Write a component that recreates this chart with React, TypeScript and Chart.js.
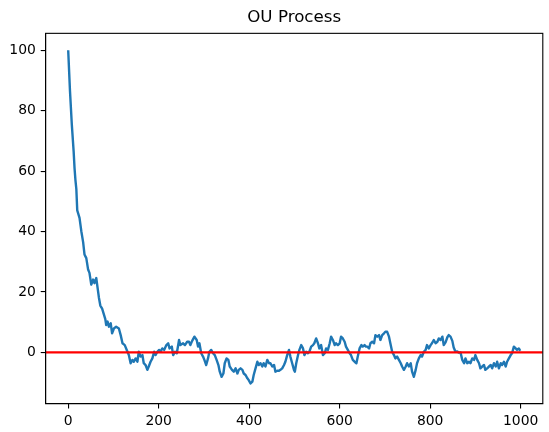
import React, { useEffect, useRef } from "react";
import { Chart, registerables } from "chart.js";

Chart.register(...registerables);

const steps: number[] = [
  0, 4, 8, 12, 14, 16, 18, 20, 22, 25, 29, 33, 36, 40, 44, 47, 51, 55, 58, 62,
  64, 68, 71, 75, 79, 82, 84, 87, 90, 94, 97, 101, 106, 112, 116, 120, 125, 131, 134, 138,
  142, 145, 149, 153, 156, 160, 164, 167, 171, 175, 178, 182, 186, 190, 193, 197, 201, 204, 208, 212,
  217, 221, 224, 229, 232, 236, 240, 245, 248, 254, 258, 263, 267, 270, 274, 279, 284, 287, 290, 294,
  298, 301, 305, 309, 312, 316, 320, 324, 328, 332, 335, 339, 343, 346, 350, 354, 357, 362, 366, 370,
  374, 377, 381, 385, 388, 392, 396, 399, 403, 407, 410, 414, 418, 421, 425, 429, 432, 436, 440, 444,
  447, 451, 455, 458, 462, 466, 469, 473, 477, 480, 484, 488, 491, 495, 499, 501, 504, 508, 511, 515,
  519, 522, 526, 530, 533, 537, 541, 544, 548, 552, 555, 559, 563, 567, 570, 574, 578, 581, 585, 589,
  592, 596, 600, 603, 607, 611, 614, 618, 622, 625, 629, 633, 637, 640, 644, 648, 651, 655, 658, 661,
  665, 668, 672, 676, 679, 683, 687, 690, 694, 698, 701, 705, 709, 712, 716, 720, 723, 727, 731, 735,
  738, 742, 746, 749, 753, 757, 760, 764, 768, 771, 775, 779, 782, 786, 790, 793, 797, 801, 804, 808,
  812, 816, 819, 823, 827, 830, 834, 838, 841, 845, 849, 852, 856, 860, 863, 867, 871, 875, 878, 882,
  886, 889, 893, 897, 900, 904, 908, 911, 915, 919, 922, 926, 930, 934, 937, 941, 945, 948, 952, 956,
  959, 963, 967, 970, 974, 978, 981, 985, 989, 992, 996, 999,
];

const ouValues: number[] = [
  100, 86.4, 75.4, 66.6, 61, 57, 54, 47, 46, 44.5, 40.1, 36.5, 32.4, 31.2, 27.4, 26.3, 22.4, 24.1, 22.9, 24.6,
  22.4, 18, 15.5, 14.5, 12.5, 11, 9, 10.2, 8.5, 9.6, 6.3, 7.9, 8.5, 7.9, 5.7, 3, 2.4, 0.2, -0.9, -3.6,
  -2.5, -3.1, -2, -3.1, 0.2, -1.4, -0.9, -3.6, -4.2, -5.8, -4.7, -3.1, -2, 0.2, -0.9, 0.2, 0.8, 0.2, 1.3, 0.8,
  2.4, 3, 1.3, 1.9, -0.9, 0.2, -0.3, 4.1, 2.4, 3, 2.4, 3.5, 3.5, 2.4, 3.8, 5.2, 4.1, 1.9, 3, -0.3,
  -1.4, -2.5, -4.2, -2, 0.2, 0.8, -0.3, -0.9, -2.5, -4.2, -6.4, -8.1, -7, -3.6, -2, -2.5, -4.7, -5.8, -6.4, -5.3,
  -7, -5.8, -5.3, -5.8, -7, -7.5, -8.6, -9.2, -10.3, -9.7, -7.5, -5.3, -3.1, -4.2, -3.6, -4.7, -3.6, -4.7, -2.5, -3.6,
  -3.6, -4.7, -4.2, -6.4, -6.1, -6.1, -5.8, -5.3, -4.2, -3.1, -0.9, 0.8, -1.4, -3.6, -5.8, -6.4, -3.6, -0.9, 0.8, 2.4,
  1.3, -0.9, 0.2, -0.3, 0.2, 1.9, 2.4, 3, 4.6, 3, 1.3, 2.4, -0.9, -0.3, 1.3, 0.8, 3, 5.2, 4.1, 2.4,
  3, 2.4, 3, 5.2, 4.6, 3.5, 1.9, 0.8, -0.3, -0.9, -2.5, -3.1, -3.6, -1.4, 1.3, 2.4, 1.9, 2.4, 1.9, 1.9,
  1.3, 3, 3.5, 3, 5.7, 5.2, 5.7, 4.1, 5.7, 6.3, 6.8, 6.8, 5.2, 3, 0.2, -0.9, -2, -1.4, -2.5, -3.6,
  -4.7, -5.8, -4.7, -3.6, -4.7, -3.6, -6.4, -8.1, -5.8, -3.6, -2, -0.9, -1.4, 0.2, 0.8, 2.4, 1.3, 2.4, 3, 4.1,
  3, 3.5, 4.6, 4.1, 5.2, 2.4, 3.3, 5, 5.7, 5.2, 3.8, 1.6, 0.2, 0.3, -0.1, 0, -2.5, -3.6, -2, -3.6,
  -3.1, -3.6, -2, -2.5, -0.9, -2.5, -3.6, -5.3, -4.7, -4.2, -5.8, -5.3, -4.7, -4.2, -5.3, -3.6, -4.7, -3.1, -5.3, -3.6,
  -4.2, -3.1, -4.7, -3.1, -2, -0.9, -0.3, 1.9, 1.3, 0.8, 1.3, 0.5,
];

const xTickValues: number[] = [0, 200, 400, 600, 800, 1000];
const yTickValues: number[] = [0, 20, 40, 60, 80, 100];
const meanLevel = 0;
const xLimits: number[] = [-49.95, 1048.95];
const yLimits: number[] = [-17.0, 105.6];

export default function App() {
  const canvasRef = useRef<HTMLCanvasElement | null>(null);

  useEffect(() => {
    if (!canvasRef.current) return;
    const framePlugin = {
      id: "frame",
      afterDraw(chart: any) {
        const { ctx, chartArea } = chart;
        ctx.save();
        ctx.strokeStyle = "#000";
        ctx.lineWidth = 1.1;
        ctx.strokeRect(
          chartArea.left,
          chartArea.top,
          chartArea.right - chartArea.left,
          chartArea.bottom - chartArea.top
        );
        ctx.restore();
      },
    };

    const tickFont = { family: "DejaVu Sans", size: 13.9 };

    const chart = new Chart(canvasRef.current, {
      type: "line",
      data: {
        datasets: [
          {
            label: "mean",
            data: xLimits.map((x) => ({ x, y: meanLevel })),
            borderColor: "#ff0000",
            borderWidth: 2.08,
            pointRadius: 0,
            order: 0,
          },
          {
            label: "OU",
            data: steps.map((s, i) => ({ x: s, y: ouValues[i] })),
            borderColor: "#1f77b4",
            borderWidth: 2.4,
            pointRadius: 0,
            tension: 0,
            borderJoinStyle: "round",
            order: 1,
          },
        ],
      },
      options: {
        animation: false,
        responsive: false,
        events: [],
        layout: { padding: { left: 0, right: 6.2, top: 0, bottom: 0 } },
        plugins: {
          legend: { display: false },
          tooltip: { enabled: false },
          title: {
            display: true,
            text: "OU Process",
            fullSize: false,
            color: "#000",
            font: { family: "DejaVu Sans", size: 16.7, weight: "normal" },
            padding: { top: 8, bottom: 5.3 },
          },
        },
        scales: {
          x: {
            type: "linear",
            min: xLimits[0],
            max: xLimits[1],
            afterBuildTicks: (scale: any) => {
              scale.ticks = xTickValues.map((v) => ({ value: v }));
            },
            afterFit: (scale: any) => {
              scale.height = 28.3;
            },
            grid: {
              display: true,
              drawOnChartArea: false,
              drawTicks: true,
              tickLength: 4.86,
              color: "#000",
              lineWidth: 1.1,
            },
            border: { display: true, color: "#000", width: 1.1 },
            ticks: {
              color: "#000",
              font: tickFont,
              padding: 4.86,
              maxRotation: 0,
              autoSkip: false,
              callback: (v: any) => String(v),
            },
          },
          y: {
            type: "linear",
            min: yLimits[0],
            max: yLimits[1],
            afterBuildTicks: (scale: any) => {
              scale.ticks = yTickValues.map((v) => ({ value: v }));
            },
            afterFit: (scale: any) => {
              scale.width = 45.6;
            },
            grid: {
              display: true,
              drawOnChartArea: false,
              drawTicks: true,
              tickLength: 4.86,
              color: "#000",
              lineWidth: 1.1,
            },
            border: { display: true, color: "#000", width: 1.1 },
            ticks: {
              color: "#000",
              font: tickFont,
              padding: 4.86,
              autoSkip: false,
              callback: (v: any) => String(v),
            },
          },
        },
      },
      plugins: [framePlugin],
    } as any);

    return () => {
      chart.destroy();
    };
  }, []);

  return (
    <div style={{ position: "fixed", left: 0, top: 0, width: 549, height: 432, background: "#fff" }}>
      <canvas ref={canvasRef} width={549} height={432} />
    </div>
  );
}
